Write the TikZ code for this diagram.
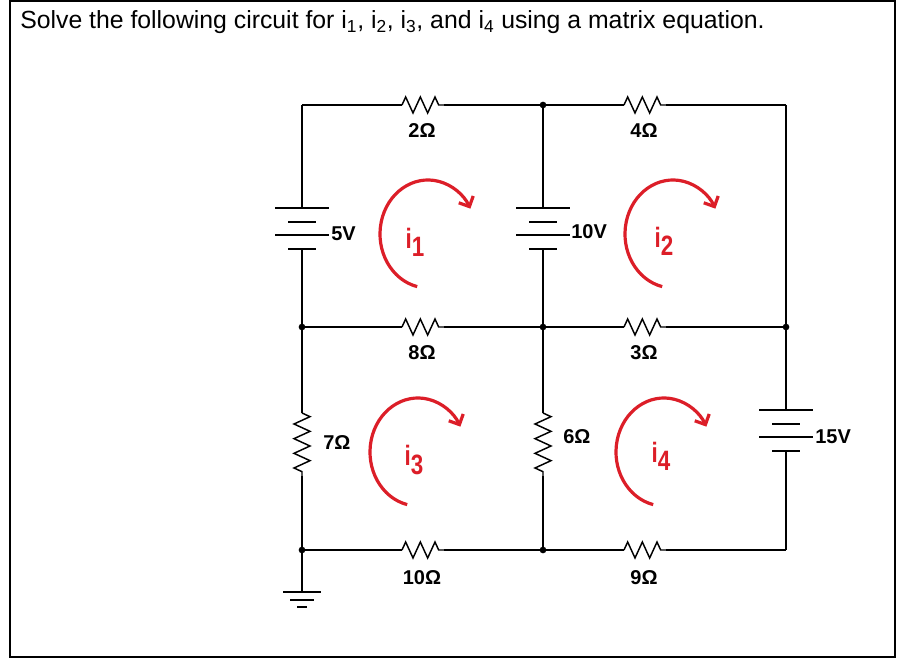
\documentclass[tikz,border=0pt]{standalone}
\usepackage{fontspec}
\setmainfont{Liberation Sans}
\usetikzlibrary{decorations.pathmorphing,arrows.meta}
\definecolor{loopred}{RGB}{220,30,40}
\tikzset{
  wire/.style={line width=1.1pt},
  res/.style={line width=1.1pt,decorate,decoration={zigzag,segment length=11pt,amplitude=6pt}},
  lbl/.style={font=\bfseries\fontsize{15}{15}\selectfont,inner sep=0pt},
  dot/.style={circle,fill=black,inner sep=0pt,minimum size=5pt},
  loopa/.style={draw=loopred,line width=2.4pt,-{Straight Barb[length=6pt,width=12pt]}},
  ilbl/.style={text=loopred,font=\bfseries\fontsize{21}{21}\selectfont,inner sep=0pt,xscale=0.8},
}
\newcommand{\batt}[3]{% x, y (center), name
  \draw[wire] (#1-27,#2-20)--(#1+27,#2-20);
  \draw[wire] (#1-14,#2-6)--(#1+14,#2-6);
  \draw[wire] (#1-27,#2+7)--(#1+27,#2+7);
  \draw[wire] (#1-14,#2+21)--(#1+14,#2+21);
}
\begin{document}
\begin{tikzpicture}[x=0.75pt,y=-0.75pt]
\useasboundingbox (0,0) rectangle (897,659);
\fill[white] (0,0) rectangle (897,659);
\draw[line width=2.2pt] (10,1) -- (895,1) -- (895,657) -- (10,657) -- cycle;
\node[anchor=west,font=\fontsize{18.6}{20}\selectfont,inner sep=0pt] (title) at (20,22) {Solve the following circuit for i\textsubscript{1}, i\textsubscript{2}, i\textsubscript{3}, and i\textsubscript{4} using a matrix equation.};

% nodes
\foreach \n/\x/\y in {tl/302/105,tm/543/105,tr/786/105,ml/302/327,mm/543/327,mr/786/327,bl/302/550,bm/543/550,br/786/550}
  \coordinate (\n) at (\x,\y);
\foreach \n in {tm,ml,mm,mr,bl,bm} \node[dot] at (\n) {};

% top row
\draw[wire] (tl) -- (402,105); \draw[res] (402,105) -- (444,105); \draw[wire] (444,105) -- (tm);
\draw[wire] (tm) -- (624,105); \draw[res] (624,105) -- (666,105); \draw[wire] (666,105) -- (tr);
% middle row
\draw[wire] (ml) -- (402,327); \draw[res] (402,327) -- (444,327); \draw[wire] (444,327) -- (mm);
\draw[wire] (mm) -- (624,327); \draw[res] (624,327) -- (666,327); \draw[wire] (666,327) -- (mr);
% bottom row
\draw[wire] (bl) -- (402,550); \draw[res] (402,550) -- (444,550); \draw[wire] (444,550) -- (bm);
\draw[wire] (bm) -- (624,550); \draw[res] (624,550) -- (666,550); \draw[wire] (666,550) -- (br);

% left column
\draw[wire] (tl) -- (302,208); \batt{302}{228}{b5} \draw[wire] (302,249) -- (ml);
\draw[wire] (ml) -- (302,413); \draw[res] (302,413) -- (302,476); \draw[wire] (302,476) -- (bl);
% middle column
\draw[wire] (tm) -- (543,208); \batt{543}{228}{b10} \draw[wire] (543,249) -- (mm);
\draw[wire] (mm) -- (543,413); \draw[res] (543,413) -- (543,476); \draw[wire] (543,476) -- (bm);
% right column
\draw[wire] (tr) -- (mr);
\draw[wire] (mr) -- (786,410); \batt{786}{430}{b15} \draw[wire] (786,451) -- (br);

% ground
\draw[wire] (bl) -- (302,592);
\draw[wire] (283,592) -- (321,592);
\draw[wire] (290,600) -- (314,600);
\draw[wire] (297,607) -- (307,607);

% labels
\node[lbl] (r2) at (422,131) {2Ω};
\node[lbl] (r4) at (644,131) {4Ω};
\node[lbl] (r8) at (422,353) {8Ω};
\node[lbl] (r3) at (644,353) {3Ω};
\node[lbl] (r10) at (422,578) {10Ω};
\node[lbl] (r9) at (644,578) {9Ω};
\node[lbl,anchor=west] (r7) at (323,443) {7Ω};
\node[lbl,anchor=west] (r6) at (563,437) {6Ω};
\node[lbl,anchor=west] (v5) at (331,234) {5V};
\node[lbl,anchor=west] (v10) at (571,232) {10V};
\node[lbl,anchor=west] (v15) at (815,437) {15V};

% loop currents
\foreach \cx/\cy/\lx/\ly/\t/\nm in {428/234/415/242/1/la,673/234/664/241/2/lb,418/452/414/460/3/lc,664/452/661/456/4/ld}{
  \draw[loopa] (\cx,\cy) ++(103:48 and 54) arc[start angle=103,end angle=332,x radius=48,y radius=54];
  \node[ilbl] (\nm) at (\lx,\ly) {i\raisebox{-0.55ex}{\t}};
}
\end{tikzpicture}
\end{document}
